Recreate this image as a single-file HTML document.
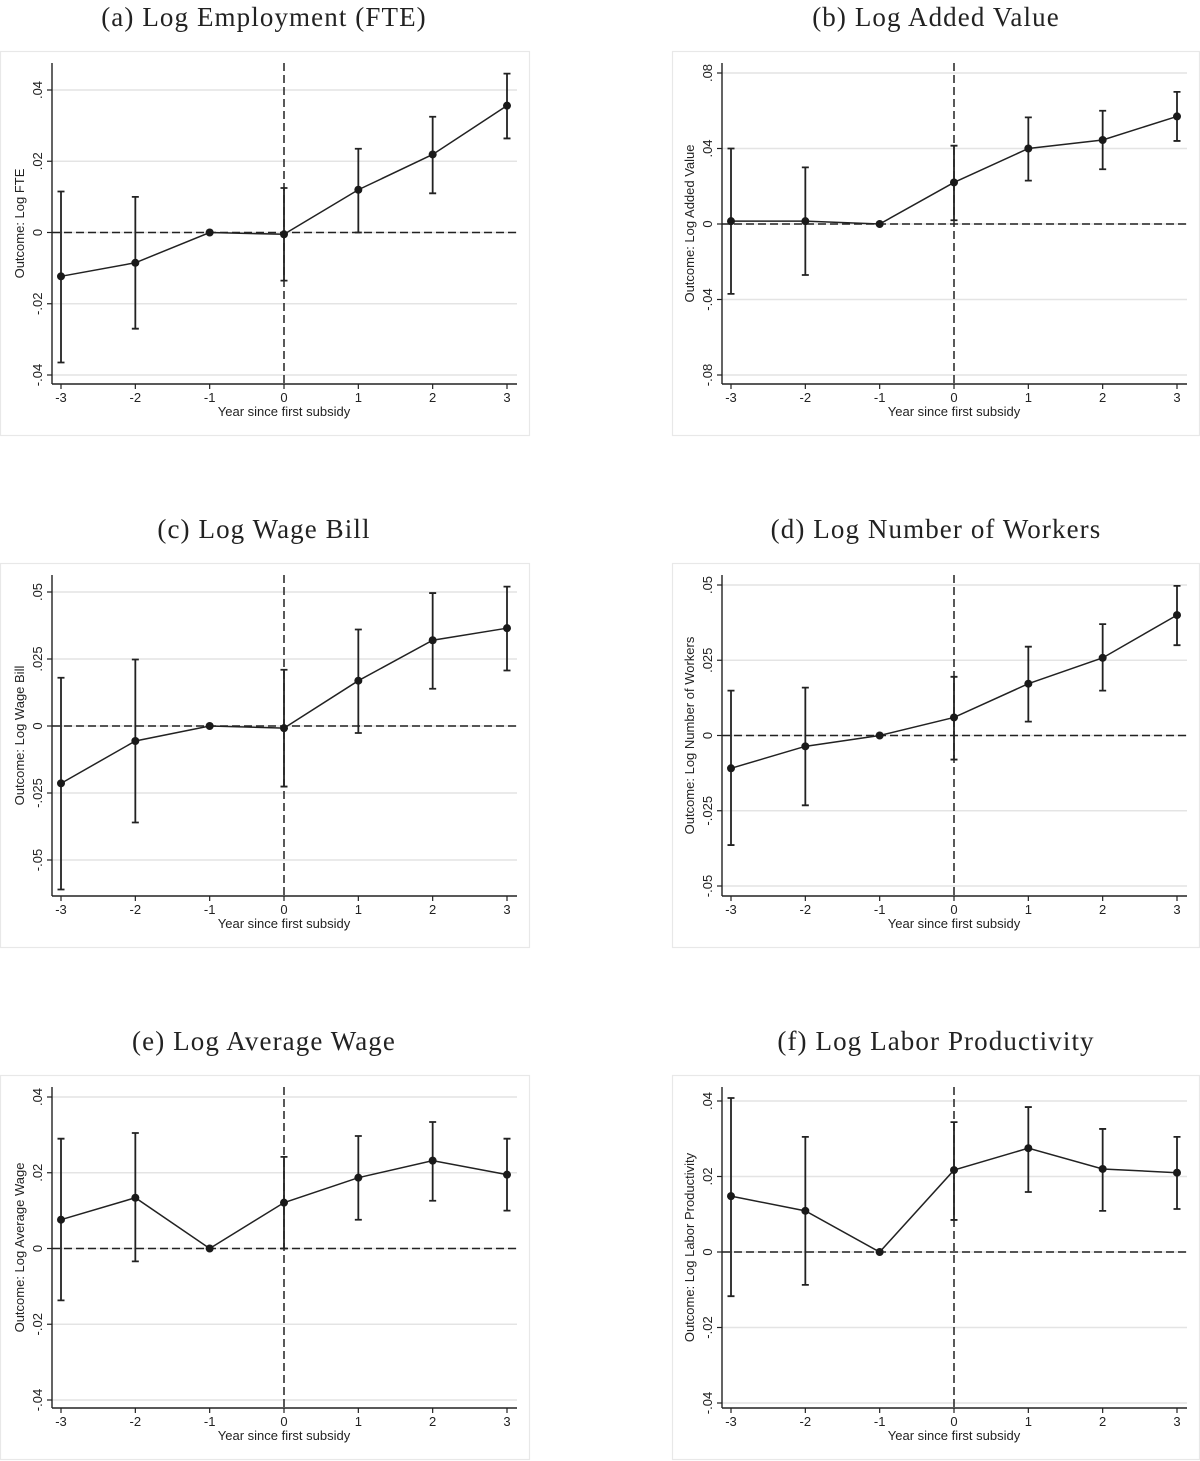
<!DOCTYPE html>
<html><head><meta charset="utf-8"><style>
body{margin:0;background:#fff;width:1200px;height:1461px;overflow:hidden}
svg{display:block}
</style></head><body>
<svg id="fig" width="1200" height="1461" viewBox="0 0 1200 1461" xmlns="http://www.w3.org/2000/svg"></svg>
<script>
const years=[-3,-2,-1,0,1,2,3];
const fteEst=[-0.0123,-0.0085,0,-0.0005,0.012,0.0219,0.0356];
const fteLo=[-0.0365,-0.027,0,-0.0135,0.0,0.011,0.0264];
const fteHi=[0.0115,0.010,0,0.0125,0.0235,0.0325,0.0446];
const avEst=[0.0015,0.0015,0,0.022,0.040,0.0445,0.057];
const avLo=[-0.037,-0.027,0,0.002,0.023,0.029,0.044];
const avHi=[0.040,0.030,0,0.0415,0.0565,0.060,0.070];
const wbEst=[-0.0214,-0.0056,0,-0.0008,0.0169,0.032,0.0365];
const wbLo=[-0.061,-0.036,0,-0.0226,-0.0026,0.0139,0.0207];
const wbHi=[0.018,0.0248,0,0.021,0.036,0.0496,0.052];
const nwEst=[-0.0109,-0.0036,0,0.006,0.0172,0.0258,0.040];
const nwLo=[-0.0364,-0.0232,0,-0.008,0.0046,0.0149,0.030];
const nwHi=[0.0149,0.0159,0,0.0195,0.0295,0.037,0.0497];
const awEst=[0.0076,0.0134,0,0.0121,0.0187,0.0232,0.0195];
const awLo=[-0.0137,-0.0034,0,0,0.0076,0.0126,0.010];
const awHi=[0.029,0.0305,0,0.0242,0.0297,0.0334,0.029];
const lpEst=[0.0148,0.0109,0,0.0217,0.0275,0.022,0.021];
const lpLo=[-0.0117,-0.0087,0,0.0085,0.0159,0.0109,0.0114];
const lpHi=[0.0408,0.0305,0,0.0344,0.0384,0.0326,0.0305];
const ticks4=[0.04,0.02,0,-0.02,-0.04];
const tickLab4=[".04",".02","0","-.02","-.04"];
const ticks8=[0.08,0.04,0,-0.04,-0.08];
const tickLab8=[".08",".04","0","-.04","-.08"];
const ticks5=[0.05,0.025,0,-0.025,-0.05];
const tickLab5=[".05",".025","0","-.025","-.05"];

const NS="http://www.w3.org/2000/svg";
const svg=document.getElementById('fig');
function mk(tag,attrs,parent,text){const e=document.createElementNS(NS,tag);for(const k in attrs)e.setAttribute(k,attrs[k]);if(text!==undefined)e.textContent=text;(parent||svg).appendChild(e);return e;}

const panels=[
 {key:'a',title:'(a) Log Employment (FTE)',ytitle:'Outcome: Log FTE',est:fteEst,lo:fteLo,hi:fteHi,ticks:ticks4,labs:tickLab4,col:0,row:0,yTop:90,yBot:375},
 {key:'b',title:'(b) Log Added Value',ytitle:'Outcome: Log Added Value',est:avEst,lo:avLo,hi:avHi,ticks:ticks8,labs:tickLab8,col:1,row:0,yTop:73,yBot:375},
 {key:'c',title:'(c) Log Wage Bill',ytitle:'Outcome: Log Wage Bill',est:wbEst,lo:wbLo,hi:wbHi,ticks:ticks5,labs:tickLab5,col:0,row:1,yTop:592,yBot:860},
 {key:'d',title:'(d) Log Number of Workers',ytitle:'Outcome: Log Number of Workers',est:nwEst,lo:nwLo,hi:nwHi,ticks:ticks5,labs:tickLab5,col:1,row:1,yTop:585,yBot:886},
 {key:'e',title:'(e) Log Average Wage',ytitle:'Outcome: Log Average Wage',est:awEst,lo:awLo,hi:awHi,ticks:ticks4,labs:tickLab4,col:0,row:2,yTop:1097,yBot:1400},
 {key:'f',title:'(f) Log Labor Productivity',ytitle:'Outcome: Log Labor Productivity',est:lpEst,lo:lpLo,hi:lpHi,ticks:ticks4,labs:tickLab4,col:1,row:2,yTop:1101,yBot:1403}
];
const rowTop=[51,563,1075];
const colGeo=[{bx:0,bw:529,ax:52,right:517,x0:61,x1:507,tx:264},{bx:672,bw:527,ax:722,right:1187,x0:731,x1:1177,tx:936}];

panels.forEach(p=>{
 const c=colGeo[p.col], top=rowTop[p.row];
 const g=mk('g',{});
 
 
 const tmin=p.ticks[p.ticks.length-1], tmax=p.ticks[0];
 const Y=v=>p.yBot+(v-tmin)/(tmax-tmin)*(p.yTop-p.yBot);
 const X=v=>c.x0+(v-years[0])/(years[years.length-1]-years[0])*(c.x1-c.x0);
 const t=mk('text',{x:c.tx,y:top-25,'text-anchor':'middle','font-family':'"Liberation Serif",serif','font-size':'27','letter-spacing':'1.1',fill:'#222'},g,p.title);
 
 
 const box=mk('rect',{x:c.bx+0.5,y:top+0.5,width:c.bw,height:384,fill:'none',stroke:'#e8e8e8','stroke-width':1.2},g);
 
 
 const axTop=top+12, axBot=top+333;
 p.ticks.forEach((v,i)=>{
  const gl=mk('line',{x1:c.ax,x2:c.right,y1:Y(v),y2:Y(v),stroke:'#e4e4e4','stroke-width':1.4},g);
  
  
  mk('line',{x1:c.ax-5,x2:c.ax,y1:Y(v),y2:Y(v),stroke:'#222','stroke-width':1.2},g);
  const yt=Y(v), xt=c.ax-10;
  const lab=mk('text',{x:xt,y:yt,transform:`rotate(-90 ${xt} ${yt})`,'text-anchor':'middle','font-family':'"Liberation Sans",sans-serif','font-size':'13',fill:'#222'},g,p.labs[i]);
  
  
 });
 const ya=mk('line',{x1:c.ax,x2:c.ax,y1:axTop,y2:axBot,stroke:'#222','stroke-width':1.4},g);
 
 
 const xa=mk('line',{x1:c.ax,x2:c.right,y1:axBot,y2:axBot,stroke:'#222','stroke-width':1.4},g);
 
 
 years.forEach(yv=>{
  mk('line',{x1:X(yv),x2:X(yv),y1:axBot,y2:axBot+5,stroke:'#222','stroke-width':1.2},g);
  const l=mk('text',{x:X(yv),y:axBot+18,'text-anchor':'middle','font-family':'"Liberation Sans",sans-serif','font-size':'13',fill:'#222'},g,String(yv));
  
  
 });
 const xt=mk('text',{x:X(0),y:axBot+32,'text-anchor':'middle','font-family':'"Liberation Sans",sans-serif','font-size':'13',fill:'#222'},g,'Year since first subsidy');
 
 
 const yx=c.ax-28, ym=(axTop+axBot)/2;
 const ytl=mk('text',{x:yx,y:ym,transform:`rotate(-90 ${yx} ${ym})`,'text-anchor':'middle','font-family':'"Liberation Sans",sans-serif','font-size':'13',fill:'#222'},g,p.ytitle);
 
 
 const h0=mk('line',{x1:c.ax,x2:c.right,y1:Y(0),y2:Y(0),stroke:'#222','stroke-width':1.5,'stroke-dasharray':'8,4'},g);
 
 
 const v0=mk('line',{x1:X(0),x2:X(0),y1:axTop,y2:axBot,stroke:'#222','stroke-width':1.5,'stroke-dasharray':'8,4'},g);
 
 
 years.forEach((yv,i)=>{
  if(p.hi[i]===p.lo[i])return;
  const x=X(yv);
  const ci=mk('path',{d:`M${x},${Y(p.lo[i])}V${Y(p.hi[i])}M${x-3.5},${Y(p.lo[i])}H${x+3.5}M${x-3.5},${Y(p.hi[i])}H${x+3.5}`,stroke:'#222','stroke-width':1.8,fill:'none'},g);
  
  
 });
 const ln=mk('polyline',{points:years.map((yv,i)=>X(yv)+','+Y(p.est[i])).join(' '),fill:'none',stroke:'#222','stroke-width':1.5},g);
 
 
 years.forEach((yv,i)=>{
  const pt=mk('circle',{cx:X(yv),cy:Y(p.est[i]),r:4,fill:'#1a1a1a'},g);
  
  
 });
});
</script>
</body></html>
